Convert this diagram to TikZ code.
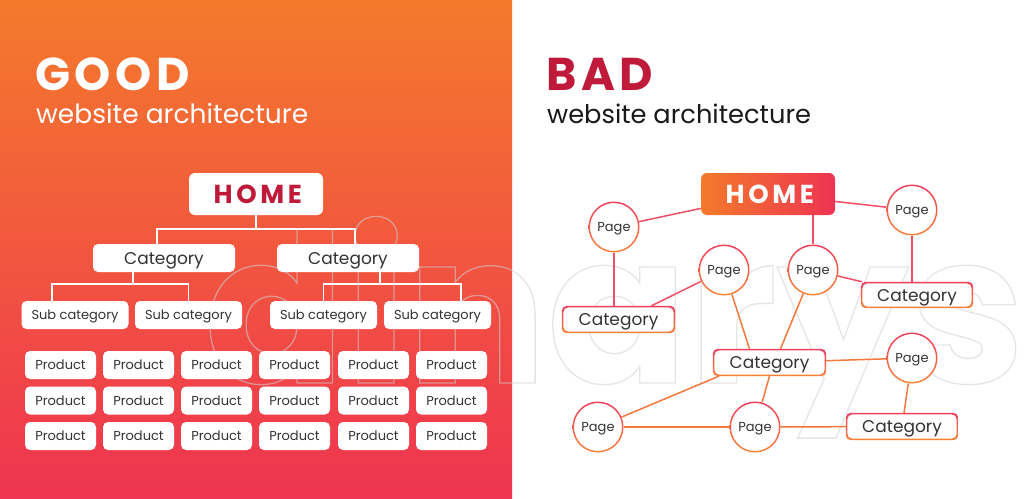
\documentclass[tikz,border=0pt]{standalone}
\usepackage{fontspec}
\setmainfont{Poppins}
\usetikzlibrary{calc}
\definecolor{bgtop}{HTML}{F47A2C}
\definecolor{bgbot}{HTML}{EF3451}
\definecolor{dred}{HTML}{BF1A3A}
\definecolor{txt}{HTML}{333333}
\definecolor{ringT}{HTML}{EE3E5E}
\definecolor{ringB}{HTML}{F7853A}
\definecolor{edgeU}{HTML}{F04F66}
\definecolor{edgeL}{HTML}{F5793E}
\definecolor{horange}{HTML}{F47A2A}
\definecolor{hred}{HTML}{EE3352}
\definecolor{wm}{HTML}{DADADA}
\newcommand\rring[1]{\shade[top color=ringT,bottom color=ringB,even odd rule,rounded corners=5pt] (#1.south west) rectangle (#1.north east) ([shift={(1.5,-1.5)}]#1.south west) rectangle ([shift={(-1.5,1.5)}]#1.north east);}
\newcommand\cring[1]{\shade[top color=ringT,bottom color=ringB,even odd rule] (#1.center) circle[radius=25.5pt] (#1.center) circle[radius=24pt];}
\begin{document}
\begin{tikzpicture}[x=1pt,y=-1pt,
  lbox/.style={fill=white, rounded corners=5pt, inner sep=0pt, text=txt, text depth=0pt},
  catL/.style={lbox, minimum width=142pt, minimum height=28pt, text height=12pt, font=\fontsize{17}{20}\selectfont},
  subL/.style={lbox, minimum width=107pt, minimum height=28pt, text height=9.1pt, font=\fontsize{13}{15}\selectfont},
  prod/.style={lbox, minimum width=71pt, minimum height=28pt, text height=9.1pt, font=\fontsize{13}{15}\selectfont},
  homeL/.style={lbox, minimum width=134pt, minimum height=42pt, rounded corners=6pt, text=dred, text height=18pt, font=\fontsize{26}{28}\bfseries\addfontfeatures{LetterSpace=14}},
  tree/.style={white, line width=1.5pt},
  pg/.style={circle, fill=white, minimum size=51pt, inner sep=0pt, text=txt, text height=9.1pt, text depth=0pt, font=\fontsize{13}{15}\selectfont},
  catR/.style={fill=white, rounded corners=5pt, inner sep=0pt, minimum width=113pt, minimum height=27pt, text=txt, text height=12pt, text depth=0pt, font=\fontsize{17}{20}\selectfont},
  homeR/.style={rounded corners=6pt, left color=horange, right color=hred, inner sep=0pt, minimum width=134pt, minimum height=42pt, text=white, text height=18pt, text depth=0pt, font=\fontsize{26}{28}\bfseries\addfontfeatures{LetterSpace=14}},
  eU/.style={line width=1.5pt, draw=edgeU},
  eL/.style={line width=1.5pt, draw=edgeL},
  title/.style={anchor=base west, inner sep=0pt}
]
\useasboundingbox (0,0) rectangle (1024,498);
\fill[white] (0,0) rectangle (1024,498);
\shade[top color=bgtop,bottom color=bgbot] (0,0) rectangle (512,498);

% watermark
\begin{scope}[opacity=0.55]
\node[anchor=base west, inner sep=0pt, text=wm, font=\fontsize{208}{208}\bfseries] (wmark) at (204,383) {\special{pdf:literal 1 Tr 1.3 w 0.82 0.82 0.82 RG}dinarys\special{pdf:literal 0 Tr}};
\end{scope}

% titles
\node[title, text=white, font=\fontsize{46}{50}\bfseries\addfontfeatures{LetterSpace=10}] (good) at (35,90) {GOOD};
\node[title, text=white, font=\fontsize{26.5}{30}\selectfont] (goodsub) at (36,123) {website architecture};
\node[title, text=dred, font=\fontsize{46}{50}\bfseries\addfontfeatures{LetterSpace=10}] (bad) at (546,90) {BAD};
\node[title, text=black!90, font=\fontsize{25.7}{30}\selectfont] (badsub) at (547,123) {website architecture};

% left tree
\node[homeL] (H1) at (256,194) {HOME\kern-0.14em};
\node[catL] (C1) at (164,258) {Category};
\node[catL] (C2) at (348,258) {Category};
\node[subL] (S1) at (75,315) {Sub category};
\node[subL] (S2) at (188.5,315) {Sub category};
\node[subL] (S3) at (323.5,315) {Sub category};
\node[subL] (S4) at (437.5,315) {Sub category};
\foreach \r/\yy in {1/365,2/400.5,3/436}{
  \foreach \c/\xx in {1/60.5,2/138.5,3/216.5,4/294.5,5/373.5,6/451.5}{
    \node[prod] (P\r\c) at (\xx,\yy) {Product};
  }
}
\coordinate (hj) at ($(H1.south)+(0,14)$);
\draw[tree] (H1.south) -- (hj);
\draw[tree] ($(C1.north)+(-7,0)$) |- (hj) -| ($(C2.north)+(7,0)$);
\coordinate (cj1) at ($(C1.south)+(-31,12)$);
\draw[tree] (C1.south -| cj1) -- (cj1);
\draw[tree] ($(S1.north)+(-23,0)$) |- (cj1) -| (S2.north);
\coordinate (cj2) at ($(C2.south)+(32,12)$);
\draw[tree] (C2.south -| cj2) -- (cj2);
\draw[tree] (S3.north) |- (cj2) -| ($(S4.north)+(23.5,0)$);

% right graph
\node[homeR] (HR) at (768,194) {HOME\kern-0.14em};
\node[pg] (G1) at (614,227) {Page};
\node[pg] (G2) at (912,210) {Page};
\node[pg] (G3) at (724,270) {Page};
\node[pg] (G4) at (813,270) {Page};
\node[pg] (G5) at (912,358) {Page};
\node[pg] (G6) at (598,427) {Page};
\node[pg] (G7) at (755,427) {Page};
\node[catR] (R1) at (618.5,319.5) {Category};
\node[catR, minimum width=112pt, minimum height=26pt] (R2) at (917,295) {Category};
\node[catR] (R3) at (769.5,362.5) {Category};
\node[catR, minimum width=112pt] (R4) at (902,426.5) {Category};

\draw[eU] (HR) -- (G1);
\draw[eU] (HR) -- (G2);
\draw[eU] (G4 |- HR.south) -- (G4);
\draw[eU] (G1) -- (G1 |- R1.north);
\draw[eU] (G3) -- ($(R1.north)+(33,0)$);
\draw[eL] (G3) -- ($(R3.north)+(-20,0)$);
\draw[eL] (G4) -- ($(R3.north)+(11,0)$);
\draw[eU] (G4) -- (R2);
\draw[eU] (G2) -- (G2 |- R2.north);
\draw[eL] (R3) -- (G5);
\draw[eL] (G6) -- ($(R3.south west)+(6,0)$);
\draw[eL] (R3.south) -- (G7);
\draw[eL] (G6) -- (G7);
\draw[eL] (G7) -- (R4);
\draw[eL] (G5) -- ($(R4.north)+(2,0)$);

\cring{G1}\cring{G2}\cring{G3}\cring{G4}\cring{G5}\cring{G6}\cring{G7}
\rring{R1}\rring{R2}\rring{R3}\rring{R4}
\end{tikzpicture}
\end{document}
